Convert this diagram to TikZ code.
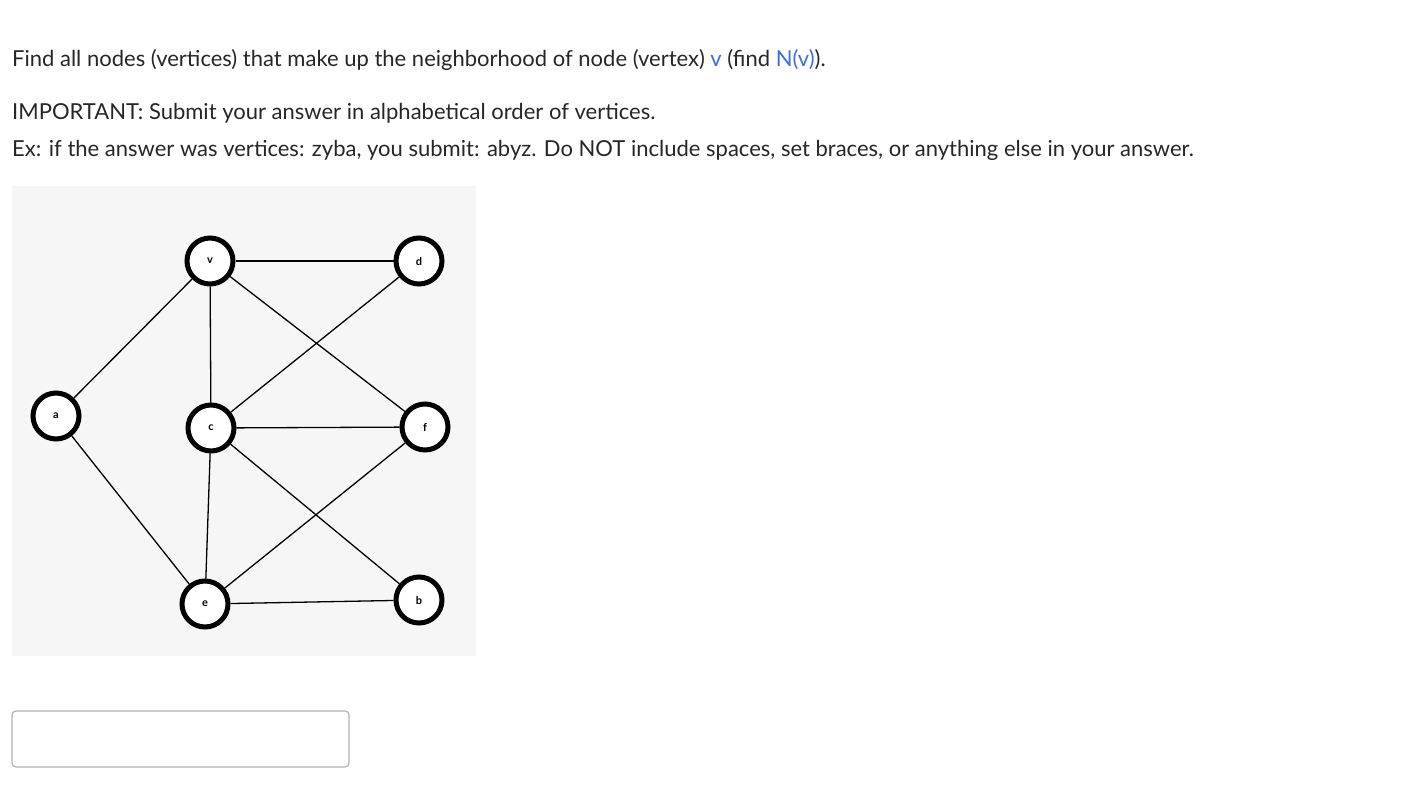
\documentclass[tikz,border=0pt]{standalone}
\usepackage{fontspec}
\setmainfont{Lato}
\definecolor{lnk}{HTML}{3B6FE0}
\definecolor{bgg}{HTML}{F6F6F6}
\begin{document}
\begin{tikzpicture}[x=1pt,y=-1pt,
  vert/.style={circle,draw=black,line width=5pt,fill=white,minimum size=46pt,inner sep=0pt,font=\fontsize{11}{12}\selectfont\bfseries},
  edge/.style={line width=1.3pt},
  txt/.style={anchor=west,inner sep=0pt,font=\fontsize{22}{26}\selectfont,text=black!85}]
\useasboundingbox (0,0) rectangle (1422,790);
\node[txt] (t1) at (12,60) {Find all nodes (vertices) that make up the neighborhood of node (vertex) \textcolor{lnk}{v} (find \textcolor{lnk}{N(v)}).};
\node[txt] (t2) at (12,113) {IMPORTANT: Submit your answer in alphabetical order of vertices.};
\node[txt] (t3) at (12,150) {Ex: if the answer was vertices: zyba, you submit: abyz. Do NOT include spaces, set braces, or anything else in your answer.};
\fill[bgg] (12,186) rectangle (476,656);
\node[vert] (v) at (210,261) {v};
\node[vert] (d) at (419,261) {d};
\node[vert] (a) at (56,416) {a};
\node[vert] (c) at (211,428) {c};
\node[vert] (f) at (425,427) {f};
\node[vert] (e) at (205,604) {e};
\node[vert] (b) at (419,600) {b};
\begin{scope}[on background layer/.style={}]
\end{scope}
\foreach \p/\q in {v/d,v/a,v/c,v/f,d/c,c/f,c/e,c/b,a/e,e/f,e/b}
  \draw[edge] (\p) -- (\q);
\draw[rounded corners=4pt,draw=black!30,line width=1.2pt] (12,711) rectangle (349,767);
\end{tikzpicture}
\end{document}
